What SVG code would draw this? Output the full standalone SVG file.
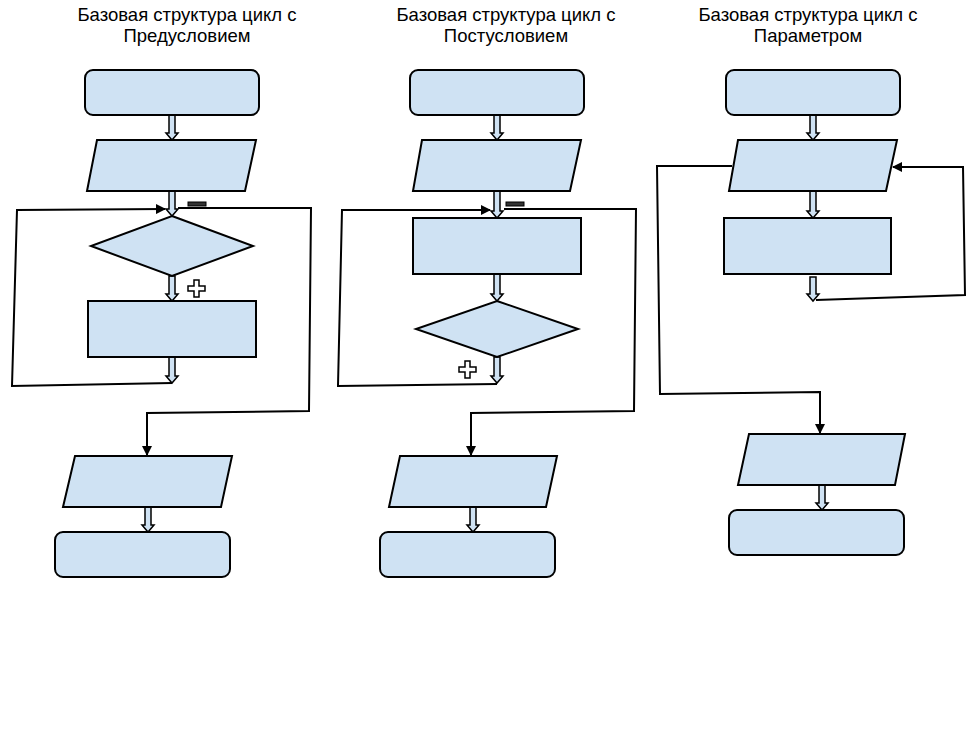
<svg xmlns="http://www.w3.org/2000/svg" width="974" height="734" viewBox="0 0 974 734">
<style>
.n{fill:#cfe2f3;stroke:#000;stroke-width:2}
.f{fill:#cfe2f3;stroke:#000;stroke-width:1.5;stroke-linejoin:miter}
.l{fill:none;stroke:#000;stroke-width:2}
.t{font-family:"Liberation Sans",Arial,sans-serif;font-size:18.5px;text-anchor:middle;fill:#000}
.s{fill:#fff;stroke:#000;stroke-width:1.5}
.m{fill:#333;stroke:#000;stroke-width:1}
</style>
<defs>
<marker id="a" markerWidth="10" markerHeight="10" refX="9" refY="5" orient="auto" markerUnits="userSpaceOnUse"><path d="M0,0L10,5L0,10Z" fill="#000"/></marker>
</defs>
<rect width="974" height="734" fill="#fff"/>
<g id="titles">
<text class="t" x="187" y="21">Базовая структура цикл с</text>
<text class="t" x="187" y="42">Предусловием</text>
<text class="t" x="506" y="21">Базовая структура цикл с</text>
<text class="t" x="506" y="42">Постусловием</text>
<text class="t" x="808" y="21">Базовая структура цикл с</text>
<text class="t" x="808" y="42">Параметром</text>
</g>
<g id="connectors">
<path class="l" d="M172,383L12,386L17,210L165,209" marker-end="url(#a)"/>
<path class="l" d="M178,208L311,208L309,411L147,413L147,455" marker-end="url(#a)"/>
<path class="l" d="M497,384L338,386L342,210L490,210" marker-end="url(#a)"/>
<path class="l" d="M504,209L636,209L634,411L471,413L471,455" marker-end="url(#a)"/>
<path class="l" d="M816,300L965,295L963,167L893,167" marker-end="url(#a)"/>
<path class="l" d="M732,166L657,166L660,394L820,392L820,433" marker-end="url(#a)"/>
<path class="f" d="M169,115h6v18h3l-6,7l-6,-7h3z"/>
<path class="f" d="M169,191h6v18h3l-6,7l-6,-7h3z"/>
<path class="f" d="M169,276h6v18h3l-6,7l-6,-7h3z"/>
<path class="f" d="M169,357h6v19h3l-6,7l-6,-7h3z"/>
<path class="f" d="M145,507h6v18h3l-6,7l-6,-7h3z"/>
<path class="f" d="M494,115h6v18h3l-6,7l-6,-7h3z"/>
<path class="f" d="M494,191h6v20h3l-6,7l-6,-7h3z"/>
<path class="f" d="M494,274h6v20h3l-6,7l-6,-7h3z"/>
<path class="f" d="M494,357h6v19h3l-6,7l-6,-7h3z"/>
<path class="f" d="M470,507h6v18h3l-6,7l-6,-7h3z"/>
<path class="f" d="M810,115h6v18h3l-6,7l-6,-7h3z"/>
<path class="f" d="M810,191h6v20h3l-6,7l-6,-7h3z"/>
<path class="f" d="M810,277h6v17h3l-6,7l-6,-7h3z"/>
<path class="f" d="M819,485h6v18h3l-6,7l-6,-7h3z"/>
<rect class="m" x="188" y="202" width="18" height="4"/>
<rect class="m" x="506" y="202" width="18" height="4"/>
<path class="s" d="M194,280h5v6h6v5h-6v6h-5v-6h-6v-5h6z"/>
<path class="s" d="M465,361h5v6h6v5h-6v6h-5v-6h-6v-5h6z"/>
</g>
<g id="c1-start"><rect class="n" x="85" y="70" width="174" height="45" rx="8"/></g>
<g id="c1-input"><path class="n" d="M97,140H256L245,191H87Z"/></g>
<g id="c1-cond"><path class="n" d="M172,216L253,246L172,276L91,246Z"/></g>
<g id="c1-body"><rect class="n" x="88" y="301" width="168" height="56"/></g>
<g id="c1-output"><path class="n" d="M75,456H232L221,507H63Z"/></g>
<g id="c1-end"><rect class="n" x="55" y="532" width="175" height="45" rx="8"/></g>
<g id="c2-start"><rect class="n" x="410" y="70" width="174" height="45" rx="8"/></g>
<g id="c2-input"><path class="n" d="M422,140H581L570,191H413Z"/></g>
<g id="c2-body"><rect class="n" x="413" y="218" width="168" height="56"/></g>
<g id="c2-cond"><path class="n" d="M497,301L578,329L497,357L416,329Z"/></g>
<g id="c2-output"><path class="n" d="M400,456H557L546,507H389Z"/></g>
<g id="c2-end"><rect class="n" x="380" y="532" width="175" height="45" rx="8"/></g>
<g id="c3-start"><rect class="n" x="726" y="70" width="174" height="45" rx="8"/></g>
<g id="c3-param"><path class="n" d="M738,140H897L886,191H729Z"/></g>
<g id="c3-body"><rect class="n" x="724" y="218" width="167" height="56"/></g>
<g id="c3-output"><path class="n" d="M749,434H905L895,485H738Z"/></g>
<g id="c3-end"><rect class="n" x="729" y="510" width="175" height="45" rx="8"/></g>
</svg>
